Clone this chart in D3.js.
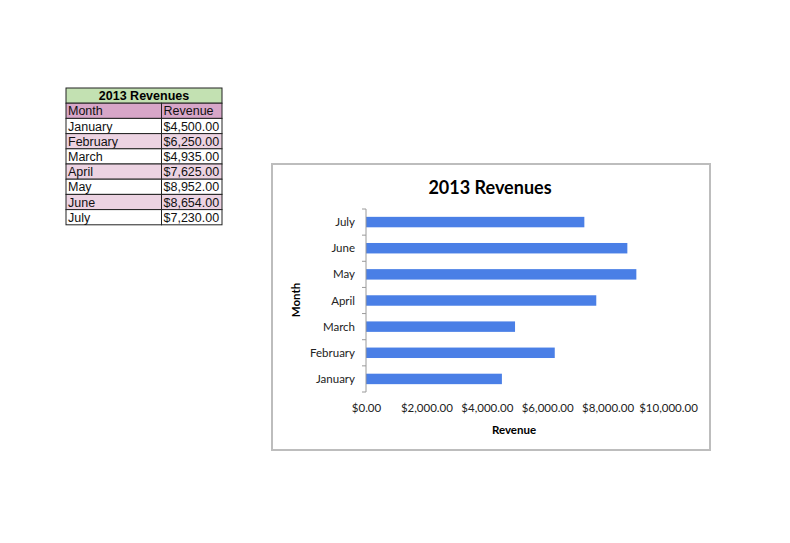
<!DOCTYPE html>
<html>
<head>
<meta charset="utf-8">
<script src="https://cdn.jsdelivr.net/npm/d3@7"></script>
<style>
  body { margin: 0; background: #fff; }
  svg { display: block; }
</style>
</head>
<body>
<svg id="page" width="790" height="543"></svg>
<script>
const months = ["January", "February", "March", "April", "May", "June", "July"];
const revenues = [4500, 6250, 4935, 7625, 8952, 8654, 7230];
const xTicks = [0, 2000, 4000, 6000, 8000, 10000];
const tableTitle = "2013 Revenues";
const tableHeaders = ["Month", "Revenue"];

const svg = d3.select("#page");
const money = d3.format("$,.2f");

// --- spreadsheet table ---
const table = { x: 66, y: 88, rowH: 15.2, colX: [66, 161.5, 222] };
const tg = svg.append("g");

const rows = [{ cells: tableHeaders, fill: "#d7a6c8" }].concat(
  months.map((m, i) => ({
    cells: [m, money(revenues[i])],
    fill: i % 2 === 1 ? "#ecd3e2" : "#ffffff",
  }))
);

tg.append("rect")
  .attr("x", table.x).attr("y", table.y)
  .attr("width", table.colX[2] - table.x).attr("height", table.rowH)
  .attr("fill", "#c3e1b2").attr("stroke", "#222").attr("stroke-width", 1);
tg.append("text")
  .attr("x", (table.x + table.colX[2]) / 2)
  .attr("y", table.y + table.rowH / 2 + 4.5)
  .attr("text-anchor", "middle")
  .style("font-family", "Liberation Sans, Arial, sans-serif")
  .style("font-size", "12.5px").style("font-weight", "bold")
  .text(tableTitle);

rows.forEach((r, i) => {
  const y = table.y + table.rowH * (i + 1);
  r.cells.forEach((c, j) => {
    tg.append("rect")
      .attr("x", table.colX[j]).attr("y", y)
      .attr("width", table.colX[j + 1] - table.colX[j]).attr("height", table.rowH)
      .attr("fill", r.fill).attr("stroke", "#222").attr("stroke-width", 1);
    tg.append("text")
      .attr("x", table.colX[j] + 2)
      .attr("y", y + table.rowH / 2 + 4.5)
      .style("font-family", "Liberation Sans, Arial, sans-serif")
      .style("font-size", "12.5px")
      .attr("fill", "#111")
      .text(c);
  });
});

// --- chart ---
const box = { x: 272, y: 164, w: 438, h: 286 };
svg.append("rect")
  .attr("x", box.x).attr("y", box.y).attr("width", box.w).attr("height", box.h)
  .attr("fill", "#fff").attr("stroke", "#bdbdbd").attr("stroke-width", 2);

const plot = { left: 366, top: 209, width: 302, height: 183 };

const xScale = d3.scaleLinear().domain([0, 10000]).range([plot.left, plot.left + plot.width]);
const yScale = d3.scaleBand().domain(months.slice().reverse())
  .range([plot.top, plot.top + plot.height]).paddingInner(0.6).paddingOuter(0.3);

const font = "Lato, Carlito, Calibri, sans-serif";

svg.append("text")
  .attr("x", 490).attr("y", 194)
  .attr("text-anchor", "middle")
  .style("font-family", font).style("font-size", "18px").style("font-weight", "bold")
  .text("2013 Revenues");

svg.append("g")
  .selectAll("rect")
  .data(months)
  .join("rect")
  .attr("x", xScale(0))
  .attr("y", (d) => yScale(d))
  .attr("width", (d, i) => xScale(revenues[i]) - xScale(0))
  .attr("height", yScale.bandwidth())
  .attr("fill", "#4a7fe6");

// y axis: line plus ticks between categories
const yAxis = svg.append("g");
yAxis.append("line")
  .attr("x1", plot.left).attr("x2", plot.left)
  .attr("y1", plot.top).attr("y2", plot.top + plot.height)
  .attr("stroke", "#9a9a9a").attr("stroke-width", 1);
const step = yScale.step();
yAxis.selectAll(".tk")
  .data(d3.range(months.length + 1))
  .join("line")
  .attr("class", "tk")
  .attr("x1", plot.left - 4).attr("x2", plot.left)
  .attr("y1", (i) => plot.top + i * (plot.height / months.length))
  .attr("y2", (i) => plot.top + i * (plot.height / months.length))
  .attr("stroke", "#9a9a9a");
yAxis.selectAll("text")
  .data(months)
  .join("text")
  .attr("x", plot.left - 11)
  .attr("y", (d) => yScale(d) + yScale.bandwidth() / 2 + 4)
  .attr("text-anchor", "end")
  .style("font-family", font).style("font-size", "11.5px")
  .attr("fill", "#222")
  .text((d) => d);

// x axis labels (no line in the original)
const xAxis = svg.append("g")
  .attr("transform", `translate(0, ${plot.top + plot.height})`)
  .call(d3.axisBottom(xScale).tickValues(xTicks).tickFormat(money).tickSize(0).tickPadding(12));
xAxis.select(".domain").remove();
xAxis.selectAll("text")
  .style("font-family", font).style("font-size", "11.5px")
  .attr("fill", "#222");

svg.append("text")
  .attr("x", plot.left + plot.width / 2 - 3).attr("y", 434)
  .attr("text-anchor", "middle")
  .style("font-family", font).style("font-size", "11.5px").style("font-weight", "bold")
  .text("Revenue");

svg.append("text")
  .attr("transform", "translate(300, 300) rotate(-90)")
  .attr("text-anchor", "middle")
  .style("font-family", font).style("font-size", "11.5px").style("font-weight", "bold")
  .text("Month");
</script>
</body>
</html>
